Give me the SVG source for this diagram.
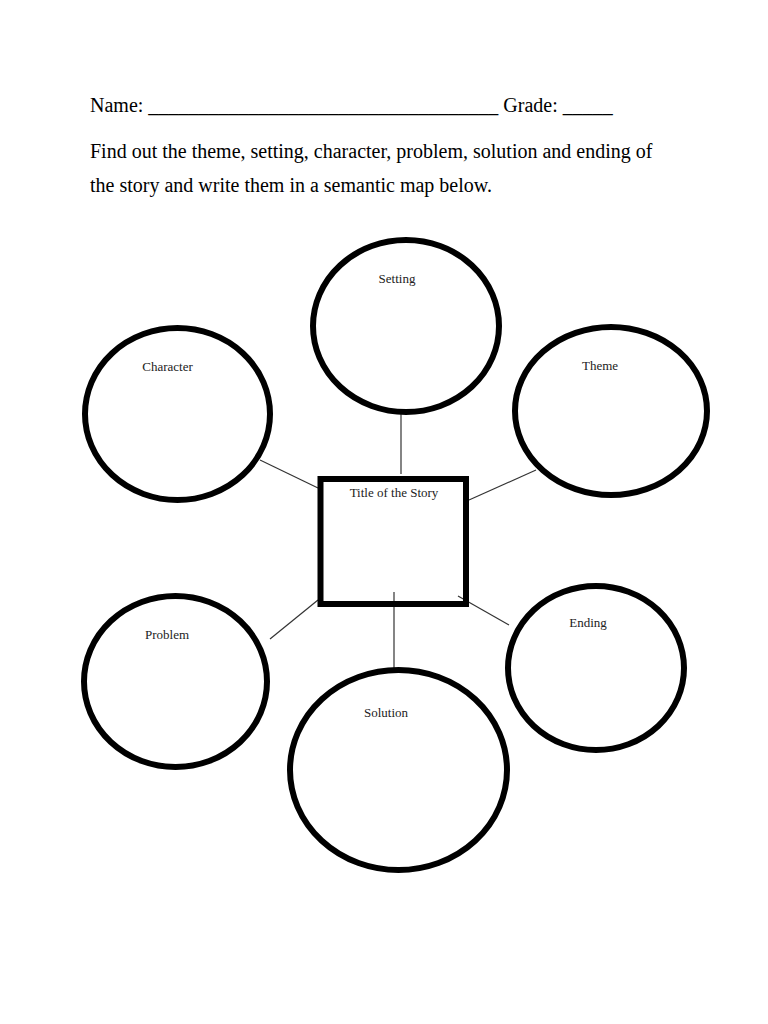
<svg xmlns="http://www.w3.org/2000/svg" width="768" height="1024" viewBox="0 0 768 1024">
  <style>
    .hdr { font-family: "Liberation Serif", "Times New Roman", serif; font-size: 20px; fill: #000; }
    .lbl { font-family: "Liberation Serif", "Times New Roman", serif; font-size: 13px; fill: #222; text-anchor: middle; }
    .node { fill: none; stroke: #000; stroke-width: 6; }
    .conn { stroke: #333; stroke-width: 1.2; fill: none; }
  </style>
  <rect x="0" y="0" width="768" height="1024" fill="#fff"/>
  <g id="header">
    <text class="hdr" x="90" y="112" xml:space="preserve">Name: ___________________________________ Grade: _____</text>
    <text class="hdr" x="90" y="158">Find out the theme, setting, character, problem, solution and ending of</text>
    <text class="hdr" x="90" y="192">the story and write them in a semantic map below.</text>
  </g>
  <g id="connectors">
    <line class="conn" x1="401" y1="414" x2="401" y2="474"/>
    <line class="conn" x1="260" y1="460" x2="318" y2="488"/>
    <line class="conn" x1="469" y1="500" x2="536" y2="470"/>
    <line class="conn" x1="318" y1="600" x2="270" y2="639"/>
    <line class="conn" x1="458" y1="596" x2="509" y2="625"/>
    <line class="conn" x1="394" y1="592" x2="394" y2="668"/>
  </g>
  <g id="title">
    <rect class="node" x="320.5" y="479" width="145.5" height="125"/>
    <text class="lbl" x="394" y="497">Title of the Story</text>
  </g>
  <g id="setting">
    <ellipse class="node" cx="406" cy="326" rx="93" ry="86"/>
    <text class="lbl" x="397" y="283">Setting</text>
  </g>
  <g id="character">
    <ellipse class="node" cx="177.5" cy="414" rx="92.5" ry="86"/>
    <text class="lbl" x="167.5" y="371">Character</text>
  </g>
  <g id="theme">
    <ellipse class="node" cx="611" cy="411" rx="96" ry="84"/>
    <text class="lbl" x="600" y="370">Theme</text>
  </g>
  <g id="problem">
    <ellipse class="node" cx="175.5" cy="681.5" rx="91.5" ry="85.5"/>
    <text class="lbl" x="167" y="639">Problem</text>
  </g>
  <g id="ending">
    <ellipse class="node" cx="596" cy="668" rx="88" ry="82"/>
    <text class="lbl" x="588" y="627">Ending</text>
  </g>
  <g id="solution">
    <ellipse class="node" cx="398.5" cy="770" rx="108.5" ry="100"/>
    <text class="lbl" x="386" y="717">Solution</text>
  </g>
</svg>
